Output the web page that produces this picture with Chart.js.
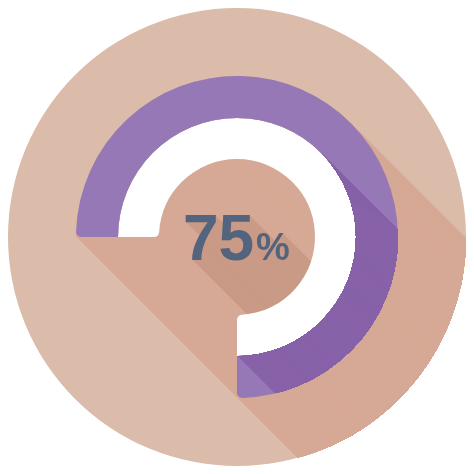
<!DOCTYPE html>
<html>
<head>
<meta charset="utf-8">
<style>
  html, body { margin: 0; padding: 0; background: #fff; }
  #grafico { display: block; }
</style>
<script src="https://cdn.jsdelivr.net/npm/chart.js@4"></script>
</head>
<body>
<canvas id="grafico" width="474" height="474"></canvas>
<script>
// dados
const categorias = ['Concluído', 'Restante'];
const valores = [75, 25];
const rotuloValor = '75';
const rotuloUnidade = '%';

// cores
const corDisco = '#dbbbaa';
const corSombra = '#d6a996';
const corSombraTexto = '#c99a85';
const corRoxo = '#9778b6';
const corRoxoEscuro = '#8762a9';
const corTexto = '#53647e';
const fonte = '"Liberation Sans", Arial, sans-serif';

function caminhoAnel(ctx, arco, rInt, rExt, dx, dy) {
  ctx.beginPath();
  ctx.arc(arco.x + dx, arco.y + dy, rExt, arco.startAngle, arco.endAngle);
  ctx.arc(arco.x + dx, arco.y + dy, rInt, arco.endAngle, arco.startAngle, true);
  ctx.closePath();
}

function escreverTexto(ctx, cx, cy, dx, dy) {
  ctx.textBaseline = 'alphabetic';
  ctx.textAlign = 'left';
  ctx.font = 'bold 64px ' + fonte;
  ctx.fillText(rotuloValor, cx - 54 + dx, cy + 23 + dy);
  ctx.font = 'bold 38px ' + fonte;
  ctx.fillText(rotuloUnidade, cx + 19 + dx, cy + 23 + dy);
}

// sombra longa a 45 graus, desenhada antes dos anéis
const sombraFundo = {
  id: 'sombraFundo',
  beforeDatasetsDraw(chart) {
    const ctx = chart.ctx;
    const roxo = chart.getDatasetMeta(1).data[0];
    const branco = chart.getDatasetMeta(2).data[0];
    const raio = chart.getDatasetMeta(0).data[0].outerRadius;

    ctx.save();
    ctx.beginPath();
    ctx.arc(roxo.x, roxo.y, raio, 0, Math.PI * 2);
    ctx.fillStyle = corDisco;
    ctx.fill();
    ctx.clip();

    ctx.fillStyle = corSombra;
    for (let i = 0; i < 340; i++) {
      caminhoAnel(ctx, roxo, branco.innerRadius, roxo.outerRadius, i, i);
      ctx.fill();
    }

    // sombra do texto, só dentro do círculo central
    ctx.beginPath();
    ctx.arc(roxo.x, roxo.y, branco.innerRadius, 0, Math.PI * 2);
    ctx.clip();
    ctx.fillStyle = corSombraTexto;
    for (let i = 0; i < 130; i++) {
      escreverTexto(ctx, roxo.x, roxo.y, i, i);
    }
    ctx.restore();
  }
};

// sombra do anel branco sobre o roxo + texto central
const sombraFrente = {
  id: 'sombraFrente',
  afterDatasetsDraw(chart) {
    const ctx = chart.ctx;
    const roxo = chart.getDatasetMeta(1).data[0];
    const branco = chart.getDatasetMeta(2).data[0];

    ctx.save();
    caminhoAnel(ctx, roxo, roxo.innerRadius, roxo.outerRadius, 0, 0);
    ctx.clip();
    ctx.fillStyle = corRoxoEscuro;
    for (let i = 0; i < 80; i++) {
      caminhoAnel(ctx, branco, branco.innerRadius, branco.outerRadius, i, i);
      ctx.fill();
    }
    ctx.restore();

    ctx.save();
    ctx.fillStyle = corTexto;
    escreverTexto(ctx, roxo.x, roxo.y, 0, 0);
    ctx.restore();
  }
};

new Chart(document.getElementById('grafico'), {
  type: 'doughnut',
  data: {
    labels: categorias,
    datasets: [
      { data: valores, weight: 68, backgroundColor: 'transparent', borderWidth: 0 },
      {
        data: valores,
        weight: 42,
        backgroundColor: [corRoxo, 'transparent'],
        borderWidth: 0,
        borderRadius: { outerStart: 5, outerEnd: 5, innerStart: 0, innerEnd: 0 }
      },
      {
        data: valores,
        weight: 41,
        backgroundColor: ['#ffffff', 'transparent'],
        borderWidth: 0,
        borderRadius: { outerStart: 0, outerEnd: 0, innerStart: 5, innerEnd: 5 }
      },
      { data: valores, weight: 78, backgroundColor: 'transparent', borderWidth: 0 }
    ]
  },
  options: {
    responsive: false,
    animation: false,
    rotation: -90,
    cutout: 0,
    layout: { padding: 8 },
    plugins: { legend: { display: false }, tooltip: { enabled: false } }
  },
  plugins: [sombraFundo, sombraFrente]
});
</script>
</body>
</html>
